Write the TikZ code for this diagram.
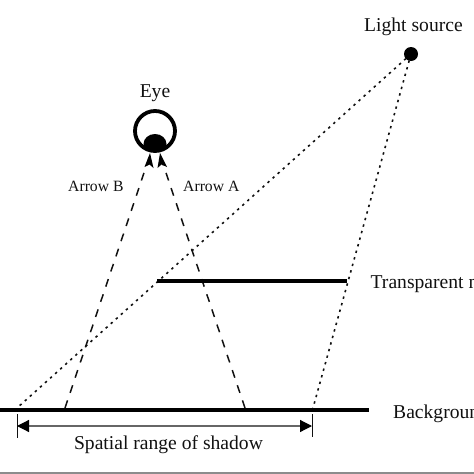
\documentclass[tikz,border=0pt]{standalone}
\usepackage{fontspec}
\setmainfont{Liberation Serif}
\usetikzlibrary{arrows.meta}
\definecolor{ink}{HTML}{111111}
\tikzset{
  lab/.style={inner sep=0pt,text=ink,font=\fontsize{19.6}{22}\selectfont},
  smalllab/.style={inner sep=0pt,text=ink,font=\fontsize{15.7}{18}\selectfont},
  thick bar/.style={draw=black,line width=3.6pt},
  ray/.style={draw=ink,line width=1.6pt,dash pattern=on 2.4pt off 4.4pt},
  sight/.style={draw=ink,line width=1.5pt,dash pattern=on 8pt off 8pt},
  tick/.style={draw=ink,line width=1pt},
  head/.style={draw=none,fill=black}
}
\begin{document}
\begin{tikzpicture}[x=1pt,y=-1pt]
\useasboundingbox (0,0) rectangle (474,474);
\clip (0,0) rectangle (474,474);
\fill[white] (0,0) rectangle (474,474);
% anchors
\coordinate (lightc) at (411,54);
\coordinate (shadowL) at (17,408);
\coordinate (shadowR) at (313,408);
\coordinate (sightB) at (65,408);
\coordinate (sightA) at (245,408);
\coordinate (tipB) at (150,155);
\coordinate (tipA) at (160,155);
\coordinate (medL) at (157,281);
\coordinate (medR) at (347,281);
\coordinate (bgL) at (0,410);
\coordinate (bgR) at (369,410);
\coordinate (tL1) at (17,414);
\coordinate (tL2) at (17,438);
\coordinate (tR1) at (312,414);
\coordinate (tR2) at (312,437);
\coordinate (arrL) at (17,426);
\coordinate (arrR) at (312,426);
% rays
\draw[ray] (lightc) -- (shadowL);
\draw[ray] (lightc) -- (shadowR);
\draw[sight] (sightB) -- (tipB);
\draw[sight] (sightA) -- (tipA);
% bars
\draw[thick bar] (medL) -- (medR);
\draw[thick bar] (bgL) -- (bgR);
% range
\draw[tick] (tL1) -- (tL2);
\draw[tick] (tR1) -- (tR2);
\draw[draw=black!60,line width=1.2pt,{Triangle[length=12pt,width=12pt,color=black]}-{Triangle[length=12pt,width=12pt,color=black]}] (arrL) -- (arrR);
% light
\node[circle,fill=black,minimum size=14pt,inner sep=0pt] (light) at (lightc) {};
% eye
\begin{scope}
\clip (155,131) circle (21);
\fill[black] (155,144) ellipse (11.5 and 10);
\end{scope}
\node[circle,draw=black,line width=3.8pt,minimum size=40pt,inner sep=0pt] (eye) at (155,131) {};
\fill[head] (150,153) -- (153.5,168) -- (149.5,164.5) -- (144.5,167) -- cycle;
\fill[head] (160,153) -- (167,167) -- (161.5,164.5) -- (157.5,168) -- cycle;
% labels
\node[lab,anchor=west] (tlight) at (364,26.5) {Light source};
\node[lab] (teye) at (155,93.5) {Eye};
\node[smalllab,anchor=west] (tb) at (68,186.5) {Arrow B};
\node[smalllab,anchor=west] (ta) at (183,186.5) {Arrow A};
\node[lab,anchor=west] (tmed) at (370.5,283.5) {Transparent medium};
\node[lab,anchor=west] (tbg) at (393,413.5) {Background};
\node[lab] (tsp) at (168.5,444.5) {Spatial range of shadow};
% bottom rule
\fill[black!45] (0,472) rectangle (474,474);
\end{tikzpicture}
\end{document}
